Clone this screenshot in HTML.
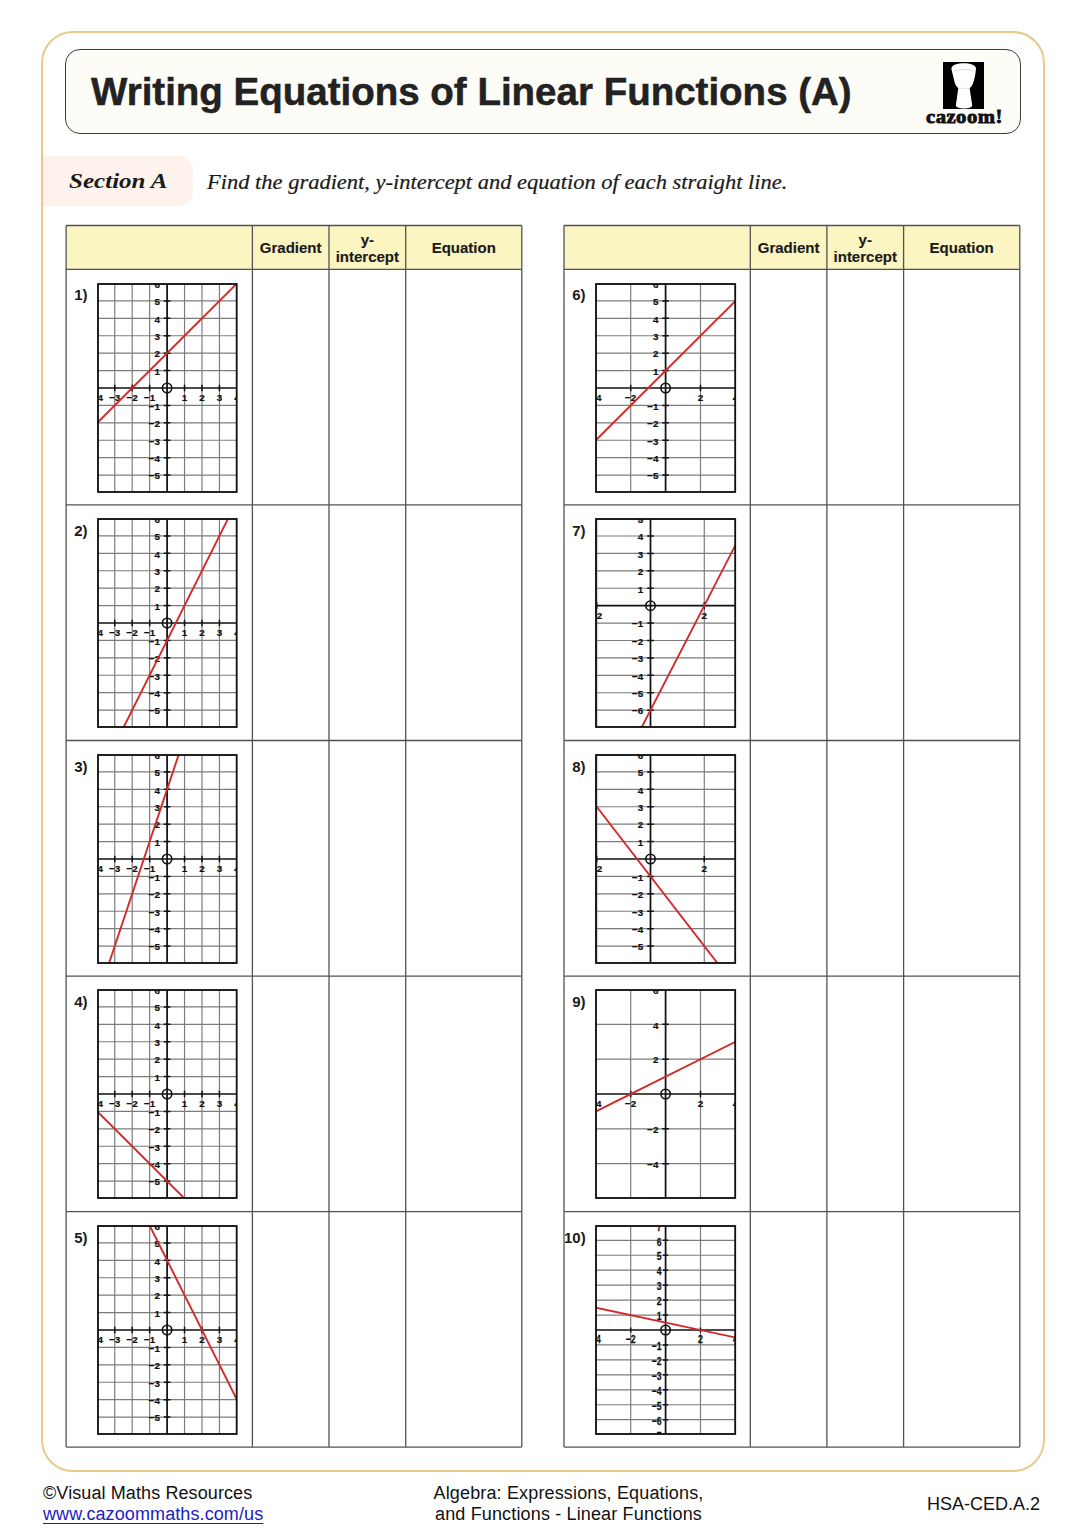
<!DOCTYPE html>
<html><head><meta charset="utf-8">
<style>
html,body{margin:0;padding:0;background:#fff;}
body{width:1086px;height:1536px;position:relative;overflow:hidden;font-family:"Liberation Sans",sans-serif;color:#1a1a1a;}
.abs{position:absolute;}
#outer{position:absolute;left:41px;top:31.2px;width:1004.2px;height:1440.8px;box-sizing:border-box;border:2.1px solid #e9c98c;border-radius:32px;}
#titlebox{position:absolute;left:65.1px;top:49.35px;width:955.9px;height:84.8px;box-sizing:border-box;border:1.9px solid #3d3d3d;border-radius:15px;background:#fefcf6;}
#title{position:absolute;left:91px;top:70px;font-size:38.5px;font-weight:bold;color:#222;white-space:nowrap;letter-spacing:0px;-webkit-text-stroke:0.5px #222;}
#pill{position:absolute;left:43px;top:155.5px;width:150px;height:50px;background:#fdf2ec;border-radius:0 15px 15px 0;}
#sec{position:absolute;left:68.5px;top:169px;font-family:"Liberation Serif",serif;font-style:italic;font-weight:bold;font-size:21.7px;color:#1a1a1a;white-space:nowrap;transform:scaleX(1.155);transform-origin:0 0;}
#instr{position:absolute;left:207px;top:171px;font-family:"Liberation Serif",serif;font-style:italic;font-size:20px;color:#1a1a1a;white-space:nowrap;transform:scaleX(1.124);-webkit-text-stroke:0.2px #1a1a1a;transform-origin:0 0;}
svg.tbl{position:absolute;left:0;top:0;}
svg.tbl line{stroke:#525252;stroke-width:1.3;}
svg.g{position:absolute;}
.lab text{font-family:"Liberation Sans",sans-serif;font-weight:bold;fill:#111;stroke:#111;stroke-width:0.25px;}
.num{position:absolute;width:21.5px;text-align:right;font-size:15px;color:#1a1a1a;font-weight:bold;}
.hd{position:absolute;text-align:center;font-size:15px;font-weight:bold;color:#1a1a1a;line-height:16.5px;-webkit-text-stroke:0.15px #1a1a1a;}
.foot{position:absolute;font-size:18px;color:#111;white-space:nowrap;line-height:21px;}
#f1{left:43px;top:1482.5px;letter-spacing:0.1px;}
#f1 a{color:#1c1cc4;text-decoration:underline;text-underline-offset:2.5px;text-decoration-thickness:1.4px;}
#f2{left:400px;width:337px;text-align:center;top:1482.5px;letter-spacing:0.15px;}
#f3{left:900px;width:1041px;top:1494px;}
#logo{position:absolute;left:942.8px;top:61.8px;width:41.4px;height:47.4px;background:#000;}
#logotxt{position:absolute;left:925.5px;top:106.5px;font-family:"Liberation Serif",serif;font-weight:bold;font-size:18px;color:#111;white-space:nowrap;letter-spacing:0.4px;-webkit-text-stroke:0.8px #111;transform:scaleX(1.15);transform-origin:0 0;}
</style></head><body>
<div id="outer"></div>
<div id="titlebox"></div>
<div id="title">Writing Equations of Linear Functions (A)</div>
<div id="logo"><svg width="41.4" height="47.4" viewBox="0 0 41.4 47.4" style="display:block"><path d="M8.4 6.7 C8.2 -0.6 33.2 -0.6 33 6.5 C32.6 12 31.5 17 30.6 19.5 C29.8 22.5 28.5 25 26.6 26.3 L29.2 43.1 C29.5 47.6 12.6 47.6 12.9 43.1 L15.3 26.3 C13.2 24.5 12 22 11.5 20.1 C10.5 15 9 10 8.4 6.7 Z" fill="#fff"/><path d="M10 9.5 Q20.7 5.5 31.5 9.5" stroke="#d0d0d0" stroke-width="0.8" fill="none"/><path d="M15.5 26.6 Q20.9 25.8 26.4 26.6" stroke="#d8d8d8" stroke-width="0.7" fill="none"/></svg></div>
<div id="logotxt">cazoom!</div>
<div id="pill"></div>
<div id="sec">Section A</div>
<div id="instr">Find the gradient, y-intercept and equation of each straight line.</div>
<svg class="tbl" width="1086" height="1536">
<rect x="66.1" y="225.5" width="455.7" height="43.9" fill="#fbf5c1"/>
<line x1="66.1" y1="225.5" x2="521.8" y2="225.5"/>
<line x1="66.1" y1="269.4" x2="521.8" y2="269.4"/>
<line x1="66.1" y1="504.95" x2="521.8" y2="504.95"/>
<line x1="66.1" y1="740.5" x2="521.8" y2="740.5"/>
<line x1="66.1" y1="976.05" x2="521.8" y2="976.05"/>
<line x1="66.1" y1="1211.6" x2="521.8" y2="1211.6"/>
<line x1="66.1" y1="1447.1" x2="521.8" y2="1447.1"/>
<line x1="66.1" y1="225.5" x2="66.1" y2="1447.1"/>
<line x1="252.4" y1="225.5" x2="252.4" y2="1447.1"/>
<line x1="329" y1="225.5" x2="329" y2="1447.1"/>
<line x1="405.7" y1="225.5" x2="405.7" y2="1447.1"/>
<line x1="521.8" y1="225.5" x2="521.8" y2="1447.1"/>
<rect x="564" y="225.5" width="455.8" height="43.9" fill="#fbf5c1"/>
<line x1="564" y1="225.5" x2="1019.8" y2="225.5"/>
<line x1="564" y1="269.4" x2="1019.8" y2="269.4"/>
<line x1="564" y1="504.95" x2="1019.8" y2="504.95"/>
<line x1="564" y1="740.5" x2="1019.8" y2="740.5"/>
<line x1="564" y1="976.05" x2="1019.8" y2="976.05"/>
<line x1="564" y1="1211.6" x2="1019.8" y2="1211.6"/>
<line x1="564" y1="1447.1" x2="1019.8" y2="1447.1"/>
<line x1="564" y1="225.5" x2="564" y2="1447.1"/>
<line x1="750.3" y1="225.5" x2="750.3" y2="1447.1"/>
<line x1="826.9" y1="225.5" x2="826.9" y2="1447.1"/>
<line x1="903.6" y1="225.5" x2="903.6" y2="1447.1"/>
<line x1="1019.8" y1="225.5" x2="1019.8" y2="1447.1"/>
</svg>
<div class="hd" style="left:252.4px;width:76.6px;top:240px">Gradient</div>
<div class="hd hd2" style="left:329px;width:76.7px;top:232px;line-height:16.8px">y-<br>intercept</div>
<div class="hd" style="left:405.7px;width:116.1px;top:240px">Equation</div>
<div class="hd" style="left:750.3px;width:76.6px;top:240px">Gradient</div>
<div class="hd hd2" style="left:826.9px;width:76.7px;top:232px;line-height:16.8px">y-<br>intercept</div>
<div class="hd" style="left:903.6px;width:116.2px;top:240px">Equation</div>
<div class="num" style="top:286.4px;left:66.1px">1)</div>
<div class="num" style="top:286.4px;left:564px">6)</div>
<div class="num" style="top:521.95px;left:66.1px">2)</div>
<div class="num" style="top:521.95px;left:564px">7)</div>
<div class="num" style="top:757.5px;left:66.1px">3)</div>
<div class="num" style="top:757.5px;left:564px">8)</div>
<div class="num" style="top:993.05px;left:66.1px">4)</div>
<div class="num" style="top:993.05px;left:564px">9)</div>
<div class="num" style="top:1228.6px;left:66.1px">5)</div>
<div class="num" style="top:1228.6px;left:564px">10)</div>
<svg class="g" style="left:95.2px;top:280.6px" width="144.7" height="214" viewBox="-3 -3 144.7 214">
<defs><clipPath id="c1"><rect x="0" y="0" width="138.7" height="208"/></clipPath></defs>
<g clip-path="url(#c1)">
<rect x="0" y="0" width="138.7" height="208" fill="#fff"/>
<path d="M16.75 0V208M34.2 0V208M51.65 0V208M86.55 0V208M104 0V208M121.45 0V208M0 191.1H138.7M0 173.68H138.7M0 156.26H138.7M0 138.84H138.7M0 121.42H138.7M0 86.58H138.7M0 69.16H138.7M0 51.74H138.7M0 34.32H138.7M0 16.9H138.7" stroke="#7c7c7c" stroke-width="1.2" fill="none"/>
<path d="M69.1 0V208M0 104H138.7" stroke="#111" stroke-width="1.75" fill="none"/>
<path d="M16.75 100.7V107.3M34.2 100.7V107.3M51.65 100.7V107.3M86.55 100.7V107.3M104 100.7V107.3M121.45 100.7V107.3M65.8 191.1H72.4M65.8 173.68H72.4M65.8 156.26H72.4M65.8 138.84H72.4M65.8 121.42H72.4M65.8 86.58H72.4M65.8 69.16H72.4M65.8 51.74H72.4M65.8 34.32H72.4M65.8 16.9H72.4" stroke="#111" stroke-width="1.5" fill="none"/>
<g class="lab" style="font-size:9.8px"><text x="-0.7" y="117.2" text-anchor="middle">−4</text><text x="16.75" y="117.2" text-anchor="middle">−3</text><text x="34.2" y="117.2" text-anchor="middle">−2</text><text x="51.65" y="117.2" text-anchor="middle">−1</text><text x="86.55" y="117.2" text-anchor="middle">1</text><text x="104" y="117.2" text-anchor="middle">2</text><text x="121.45" y="117.2" text-anchor="middle">3</text><text x="138.9" y="117.2" text-anchor="middle">4</text><text x="61.9" y="212.82" text-anchor="end">−6</text><text x="61.9" y="195.4" text-anchor="end">−5</text><text x="61.9" y="177.98" text-anchor="end">−4</text><text x="61.9" y="160.56" text-anchor="end">−3</text><text x="61.9" y="143.14" text-anchor="end">−2</text><text x="61.9" y="125.72" text-anchor="end">−1</text><text x="61.9" y="90.88" text-anchor="end">1</text><text x="61.9" y="73.46" text-anchor="end">2</text><text x="61.9" y="56.04" text-anchor="end">3</text><text x="61.9" y="38.62" text-anchor="end">4</text><text x="61.9" y="21.2" text-anchor="end">5</text><text x="61.9" y="3.78" text-anchor="end">6</text></g>
<circle cx="69.1" cy="104" r="4.7" stroke="#111" stroke-width="1.6" fill="none"/>
<line x1="-17.45" y1="155.56" x2="156.15" y2="-17.74" stroke="#d22a2a" stroke-width="1.9"/>
</g>
<rect x="0" y="0" width="138.7" height="208" fill="none" stroke="#111" stroke-width="1.85"/>
</svg>
<svg class="g" style="left:95.2px;top:516.15px" width="144.7" height="214" viewBox="-3 -3 144.7 214">
<defs><clipPath id="c2"><rect x="0" y="0" width="138.7" height="208"/></clipPath></defs>
<g clip-path="url(#c2)">
<rect x="0" y="0" width="138.7" height="208" fill="#fff"/>
<path d="M16.75 0V208M34.2 0V208M51.65 0V208M86.55 0V208M104 0V208M121.45 0V208M0 191.1H138.7M0 173.68H138.7M0 156.26H138.7M0 138.84H138.7M0 121.42H138.7M0 86.58H138.7M0 69.16H138.7M0 51.74H138.7M0 34.32H138.7M0 16.9H138.7" stroke="#7c7c7c" stroke-width="1.2" fill="none"/>
<path d="M69.1 0V208M0 104H138.7" stroke="#111" stroke-width="1.75" fill="none"/>
<path d="M16.75 100.7V107.3M34.2 100.7V107.3M51.65 100.7V107.3M86.55 100.7V107.3M104 100.7V107.3M121.45 100.7V107.3M65.8 191.1H72.4M65.8 173.68H72.4M65.8 156.26H72.4M65.8 138.84H72.4M65.8 121.42H72.4M65.8 86.58H72.4M65.8 69.16H72.4M65.8 51.74H72.4M65.8 34.32H72.4M65.8 16.9H72.4" stroke="#111" stroke-width="1.5" fill="none"/>
<g class="lab" style="font-size:9.8px"><text x="-0.7" y="117.2" text-anchor="middle">−4</text><text x="16.75" y="117.2" text-anchor="middle">−3</text><text x="34.2" y="117.2" text-anchor="middle">−2</text><text x="51.65" y="117.2" text-anchor="middle">−1</text><text x="86.55" y="117.2" text-anchor="middle">1</text><text x="104" y="117.2" text-anchor="middle">2</text><text x="121.45" y="117.2" text-anchor="middle">3</text><text x="138.9" y="117.2" text-anchor="middle">4</text><text x="61.9" y="212.82" text-anchor="end">−6</text><text x="61.9" y="195.4" text-anchor="end">−5</text><text x="61.9" y="177.98" text-anchor="end">−4</text><text x="61.9" y="160.56" text-anchor="end">−3</text><text x="61.9" y="143.14" text-anchor="end">−2</text><text x="61.9" y="125.72" text-anchor="end">−1</text><text x="61.9" y="90.88" text-anchor="end">1</text><text x="61.9" y="73.46" text-anchor="end">2</text><text x="61.9" y="56.04" text-anchor="end">3</text><text x="61.9" y="38.62" text-anchor="end">4</text><text x="61.9" y="21.2" text-anchor="end">5</text><text x="61.9" y="3.78" text-anchor="end">6</text></g>
<circle cx="69.1" cy="104" r="4.7" stroke="#111" stroke-width="1.6" fill="none"/>
<line x1="-17.45" y1="294.22" x2="156.15" y2="-52.38" stroke="#d22a2a" stroke-width="1.9"/>
</g>
<rect x="0" y="0" width="138.7" height="208" fill="none" stroke="#111" stroke-width="1.85"/>
</svg>
<svg class="g" style="left:95.2px;top:751.7px" width="144.7" height="214" viewBox="-3 -3 144.7 214">
<defs><clipPath id="c3"><rect x="0" y="0" width="138.7" height="208"/></clipPath></defs>
<g clip-path="url(#c3)">
<rect x="0" y="0" width="138.7" height="208" fill="#fff"/>
<path d="M16.75 0V208M34.2 0V208M51.65 0V208M86.55 0V208M104 0V208M121.45 0V208M0 191.1H138.7M0 173.68H138.7M0 156.26H138.7M0 138.84H138.7M0 121.42H138.7M0 86.58H138.7M0 69.16H138.7M0 51.74H138.7M0 34.32H138.7M0 16.9H138.7" stroke="#7c7c7c" stroke-width="1.2" fill="none"/>
<path d="M69.1 0V208M0 104H138.7" stroke="#111" stroke-width="1.75" fill="none"/>
<path d="M16.75 100.7V107.3M34.2 100.7V107.3M51.65 100.7V107.3M86.55 100.7V107.3M104 100.7V107.3M121.45 100.7V107.3M65.8 191.1H72.4M65.8 173.68H72.4M65.8 156.26H72.4M65.8 138.84H72.4M65.8 121.42H72.4M65.8 86.58H72.4M65.8 69.16H72.4M65.8 51.74H72.4M65.8 34.32H72.4M65.8 16.9H72.4" stroke="#111" stroke-width="1.5" fill="none"/>
<g class="lab" style="font-size:9.8px"><text x="-0.7" y="117.2" text-anchor="middle">−4</text><text x="16.75" y="117.2" text-anchor="middle">−3</text><text x="34.2" y="117.2" text-anchor="middle">−2</text><text x="51.65" y="117.2" text-anchor="middle">−1</text><text x="86.55" y="117.2" text-anchor="middle">1</text><text x="104" y="117.2" text-anchor="middle">2</text><text x="121.45" y="117.2" text-anchor="middle">3</text><text x="138.9" y="117.2" text-anchor="middle">4</text><text x="61.9" y="212.82" text-anchor="end">−6</text><text x="61.9" y="195.4" text-anchor="end">−5</text><text x="61.9" y="177.98" text-anchor="end">−4</text><text x="61.9" y="160.56" text-anchor="end">−3</text><text x="61.9" y="143.14" text-anchor="end">−2</text><text x="61.9" y="125.72" text-anchor="end">−1</text><text x="61.9" y="90.88" text-anchor="end">1</text><text x="61.9" y="73.46" text-anchor="end">2</text><text x="61.9" y="56.04" text-anchor="end">3</text><text x="61.9" y="38.62" text-anchor="end">4</text><text x="61.9" y="21.2" text-anchor="end">5</text><text x="61.9" y="3.78" text-anchor="end">6</text></g>
<circle cx="69.1" cy="104" r="4.7" stroke="#111" stroke-width="1.6" fill="none"/>
<line x1="-17.45" y1="293.52" x2="156.15" y2="-226.38" stroke="#d22a2a" stroke-width="1.9"/>
</g>
<rect x="0" y="0" width="138.7" height="208" fill="none" stroke="#111" stroke-width="1.85"/>
</svg>
<svg class="g" style="left:95.2px;top:987.25px" width="144.7" height="214" viewBox="-3 -3 144.7 214">
<defs><clipPath id="c4"><rect x="0" y="0" width="138.7" height="208"/></clipPath></defs>
<g clip-path="url(#c4)">
<rect x="0" y="0" width="138.7" height="208" fill="#fff"/>
<path d="M16.75 0V208M34.2 0V208M51.65 0V208M86.55 0V208M104 0V208M121.45 0V208M0 191.1H138.7M0 173.68H138.7M0 156.26H138.7M0 138.84H138.7M0 121.42H138.7M0 86.58H138.7M0 69.16H138.7M0 51.74H138.7M0 34.32H138.7M0 16.9H138.7" stroke="#7c7c7c" stroke-width="1.2" fill="none"/>
<path d="M69.1 0V208M0 104H138.7" stroke="#111" stroke-width="1.75" fill="none"/>
<path d="M16.75 100.7V107.3M34.2 100.7V107.3M51.65 100.7V107.3M86.55 100.7V107.3M104 100.7V107.3M121.45 100.7V107.3M65.8 191.1H72.4M65.8 173.68H72.4M65.8 156.26H72.4M65.8 138.84H72.4M65.8 121.42H72.4M65.8 86.58H72.4M65.8 69.16H72.4M65.8 51.74H72.4M65.8 34.32H72.4M65.8 16.9H72.4" stroke="#111" stroke-width="1.5" fill="none"/>
<g class="lab" style="font-size:9.8px"><text x="-0.7" y="117.2" text-anchor="middle">−4</text><text x="16.75" y="117.2" text-anchor="middle">−3</text><text x="34.2" y="117.2" text-anchor="middle">−2</text><text x="51.65" y="117.2" text-anchor="middle">−1</text><text x="86.55" y="117.2" text-anchor="middle">1</text><text x="104" y="117.2" text-anchor="middle">2</text><text x="121.45" y="117.2" text-anchor="middle">3</text><text x="138.9" y="117.2" text-anchor="middle">4</text><text x="61.9" y="212.82" text-anchor="end">−6</text><text x="61.9" y="195.4" text-anchor="end">−5</text><text x="61.9" y="177.98" text-anchor="end">−4</text><text x="61.9" y="160.56" text-anchor="end">−3</text><text x="61.9" y="143.14" text-anchor="end">−2</text><text x="61.9" y="125.72" text-anchor="end">−1</text><text x="61.9" y="90.88" text-anchor="end">1</text><text x="61.9" y="73.46" text-anchor="end">2</text><text x="61.9" y="56.04" text-anchor="end">3</text><text x="61.9" y="38.62" text-anchor="end">4</text><text x="61.9" y="21.2" text-anchor="end">5</text><text x="61.9" y="3.78" text-anchor="end">6</text></g>
<circle cx="69.1" cy="104" r="4.7" stroke="#111" stroke-width="1.6" fill="none"/>
<line x1="-17.45" y1="104.7" x2="156.15" y2="278" stroke="#d22a2a" stroke-width="1.9"/>
</g>
<rect x="0" y="0" width="138.7" height="208" fill="none" stroke="#111" stroke-width="1.85"/>
</svg>
<svg class="g" style="left:95.2px;top:1222.8px" width="144.7" height="214" viewBox="-3 -3 144.7 214">
<defs><clipPath id="c5"><rect x="0" y="0" width="138.7" height="208"/></clipPath></defs>
<g clip-path="url(#c5)">
<rect x="0" y="0" width="138.7" height="208" fill="#fff"/>
<path d="M16.75 0V208M34.2 0V208M51.65 0V208M86.55 0V208M104 0V208M121.45 0V208M0 191.1H138.7M0 173.68H138.7M0 156.26H138.7M0 138.84H138.7M0 121.42H138.7M0 86.58H138.7M0 69.16H138.7M0 51.74H138.7M0 34.32H138.7M0 16.9H138.7" stroke="#7c7c7c" stroke-width="1.2" fill="none"/>
<path d="M69.1 0V208M0 104H138.7" stroke="#111" stroke-width="1.75" fill="none"/>
<path d="M16.75 100.7V107.3M34.2 100.7V107.3M51.65 100.7V107.3M86.55 100.7V107.3M104 100.7V107.3M121.45 100.7V107.3M65.8 191.1H72.4M65.8 173.68H72.4M65.8 156.26H72.4M65.8 138.84H72.4M65.8 121.42H72.4M65.8 86.58H72.4M65.8 69.16H72.4M65.8 51.74H72.4M65.8 34.32H72.4M65.8 16.9H72.4" stroke="#111" stroke-width="1.5" fill="none"/>
<g class="lab" style="font-size:9.8px"><text x="-0.7" y="117.2" text-anchor="middle">−4</text><text x="16.75" y="117.2" text-anchor="middle">−3</text><text x="34.2" y="117.2" text-anchor="middle">−2</text><text x="51.65" y="117.2" text-anchor="middle">−1</text><text x="86.55" y="117.2" text-anchor="middle">1</text><text x="104" y="117.2" text-anchor="middle">2</text><text x="121.45" y="117.2" text-anchor="middle">3</text><text x="138.9" y="117.2" text-anchor="middle">4</text><text x="61.9" y="212.82" text-anchor="end">−6</text><text x="61.9" y="195.4" text-anchor="end">−5</text><text x="61.9" y="177.98" text-anchor="end">−4</text><text x="61.9" y="160.56" text-anchor="end">−3</text><text x="61.9" y="143.14" text-anchor="end">−2</text><text x="61.9" y="125.72" text-anchor="end">−1</text><text x="61.9" y="90.88" text-anchor="end">1</text><text x="61.9" y="73.46" text-anchor="end">2</text><text x="61.9" y="56.04" text-anchor="end">3</text><text x="61.9" y="38.62" text-anchor="end">4</text><text x="61.9" y="21.2" text-anchor="end">5</text><text x="61.9" y="3.78" text-anchor="end">6</text></g>
<circle cx="69.1" cy="104" r="4.7" stroke="#111" stroke-width="1.6" fill="none"/>
<line x1="-17.45" y1="-138.48" x2="156.15" y2="208.12" stroke="#d22a2a" stroke-width="1.9"/>
</g>
<rect x="0" y="0" width="138.7" height="208" fill="none" stroke="#111" stroke-width="1.85"/>
</svg>
<svg class="g" style="left:593px;top:280.6px" width="145.2" height="214" viewBox="-3 -3 145.2 214">
<defs><clipPath id="c6"><rect x="0" y="0" width="139.2" height="208"/></clipPath></defs>
<g clip-path="url(#c6)">
<rect x="0" y="0" width="139.2" height="208" fill="#fff"/>
<path d="M34.7 0V208M104.5 0V208M0 191.1H139.2M0 173.68H139.2M0 156.26H139.2M0 138.84H139.2M0 121.42H139.2M0 86.58H139.2M0 69.16H139.2M0 51.74H139.2M0 34.32H139.2M0 16.9H139.2" stroke="#7c7c7c" stroke-width="1.2" fill="none"/>
<path d="M69.6 0V208M0 104H139.2" stroke="#111" stroke-width="1.75" fill="none"/>
<path d="M34.7 100.7V107.3M104.5 100.7V107.3M66.3 191.1H72.9M66.3 173.68H72.9M66.3 156.26H72.9M66.3 138.84H72.9M66.3 121.42H72.9M66.3 86.58H72.9M66.3 69.16H72.9M66.3 51.74H72.9M66.3 34.32H72.9M66.3 16.9H72.9" stroke="#111" stroke-width="1.5" fill="none"/>
<g class="lab" style="font-size:9.8px"><text x="-0.2" y="117.2" text-anchor="middle">−4</text><text x="34.7" y="117.2" text-anchor="middle">−2</text><text x="104.5" y="117.2" text-anchor="middle">2</text><text x="139.4" y="117.2" text-anchor="middle">4</text><text x="62.4" y="212.82" text-anchor="end">−6</text><text x="62.4" y="195.4" text-anchor="end">−5</text><text x="62.4" y="177.98" text-anchor="end">−4</text><text x="62.4" y="160.56" text-anchor="end">−3</text><text x="62.4" y="143.14" text-anchor="end">−2</text><text x="62.4" y="125.72" text-anchor="end">−1</text><text x="62.4" y="90.88" text-anchor="end">1</text><text x="62.4" y="73.46" text-anchor="end">2</text><text x="62.4" y="56.04" text-anchor="end">3</text><text x="62.4" y="38.62" text-anchor="end">4</text><text x="62.4" y="21.2" text-anchor="end">5</text><text x="62.4" y="3.78" text-anchor="end">6</text></g>
<circle cx="69.6" cy="104" r="4.7" stroke="#111" stroke-width="1.6" fill="none"/>
<line x1="-17.45" y1="173.48" x2="156.65" y2="-0.32" stroke="#d22a2a" stroke-width="1.9"/>
</g>
<rect x="0" y="0" width="139.2" height="208" fill="none" stroke="#111" stroke-width="1.85"/>
</svg>
<svg class="g" style="left:593px;top:516.15px" width="145.2" height="214" viewBox="-3 -3 145.2 214">
<defs><clipPath id="c7"><rect x="0" y="0" width="139.2" height="208"/></clipPath></defs>
<g clip-path="url(#c7)">
<rect x="0" y="0" width="139.2" height="208" fill="#fff"/>
<path d="M0.7 0V208M108.3 0V208M0 191.17H139.2M0 173.75H139.2M0 156.33H139.2M0 138.91H139.2M0 121.49H139.2M0 104.07H139.2M0 69.23H139.2M0 51.81H139.2M0 34.39H139.2M0 16.97H139.2" stroke="#7c7c7c" stroke-width="1.2" fill="none"/>
<path d="M54.5 0V208M0 86.65H139.2" stroke="#111" stroke-width="1.75" fill="none"/>
<path d="M0.7 83.35V89.95M108.3 83.35V89.95M51.2 191.17H57.8M51.2 173.75H57.8M51.2 156.33H57.8M51.2 138.91H57.8M51.2 121.49H57.8M51.2 104.07H57.8M51.2 69.23H57.8M51.2 51.81H57.8M51.2 34.39H57.8M51.2 16.97H57.8" stroke="#111" stroke-width="1.5" fill="none"/>
<g class="lab" style="font-size:9.8px"><text x="0.7" y="99.85" text-anchor="middle">−2</text><text x="108.3" y="99.85" text-anchor="middle">2</text><text x="47.3" y="212.89" text-anchor="end">−7</text><text x="47.3" y="195.47" text-anchor="end">−6</text><text x="47.3" y="178.05" text-anchor="end">−5</text><text x="47.3" y="160.63" text-anchor="end">−4</text><text x="47.3" y="143.21" text-anchor="end">−3</text><text x="47.3" y="125.79" text-anchor="end">−2</text><text x="47.3" y="108.37" text-anchor="end">−1</text><text x="47.3" y="73.53" text-anchor="end">1</text><text x="47.3" y="56.11" text-anchor="end">2</text><text x="47.3" y="38.69" text-anchor="end">3</text><text x="47.3" y="21.27" text-anchor="end">4</text><text x="47.3" y="3.85" text-anchor="end">5</text></g>
<circle cx="54.5" cy="86.65" r="4.7" stroke="#111" stroke-width="1.6" fill="none"/>
<line x1="-26.9" y1="349.31" x2="166.1" y2="-25.64" stroke="#d22a2a" stroke-width="1.9"/>
</g>
<rect x="0" y="0" width="139.2" height="208" fill="none" stroke="#111" stroke-width="1.85"/>
</svg>
<svg class="g" style="left:593px;top:751.7px" width="145.2" height="214" viewBox="-3 -3 145.2 214">
<defs><clipPath id="c8"><rect x="0" y="0" width="139.2" height="208"/></clipPath></defs>
<g clip-path="url(#c8)">
<rect x="0" y="0" width="139.2" height="208" fill="#fff"/>
<path d="M0.7 0V208M108.3 0V208M0 191.1H139.2M0 173.68H139.2M0 156.26H139.2M0 138.84H139.2M0 121.42H139.2M0 86.58H139.2M0 69.16H139.2M0 51.74H139.2M0 34.32H139.2M0 16.9H139.2" stroke="#7c7c7c" stroke-width="1.2" fill="none"/>
<path d="M54.5 0V208M0 104H139.2" stroke="#111" stroke-width="1.75" fill="none"/>
<path d="M0.7 100.7V107.3M108.3 100.7V107.3M51.2 191.1H57.8M51.2 173.68H57.8M51.2 156.26H57.8M51.2 138.84H57.8M51.2 121.42H57.8M51.2 86.58H57.8M51.2 69.16H57.8M51.2 51.74H57.8M51.2 34.32H57.8M51.2 16.9H57.8" stroke="#111" stroke-width="1.5" fill="none"/>
<g class="lab" style="font-size:9.8px"><text x="0.7" y="117.2" text-anchor="middle">−2</text><text x="108.3" y="117.2" text-anchor="middle">2</text><text x="47.3" y="212.82" text-anchor="end">−6</text><text x="47.3" y="195.4" text-anchor="end">−5</text><text x="47.3" y="177.98" text-anchor="end">−4</text><text x="47.3" y="160.56" text-anchor="end">−3</text><text x="47.3" y="143.14" text-anchor="end">−2</text><text x="47.3" y="125.72" text-anchor="end">−1</text><text x="47.3" y="90.88" text-anchor="end">1</text><text x="47.3" y="73.46" text-anchor="end">2</text><text x="47.3" y="56.04" text-anchor="end">3</text><text x="47.3" y="38.62" text-anchor="end">4</text><text x="47.3" y="21.2" text-anchor="end">5</text><text x="47.3" y="3.78" text-anchor="end">6</text></g>
<circle cx="54.5" cy="104" r="4.7" stroke="#111" stroke-width="1.6" fill="none"/>
<line x1="-26.9" y1="15.99" x2="166.1" y2="265.96" stroke="#d22a2a" stroke-width="1.9"/>
</g>
<rect x="0" y="0" width="139.2" height="208" fill="none" stroke="#111" stroke-width="1.85"/>
</svg>
<svg class="g" style="left:593px;top:987.25px" width="145.2" height="214" viewBox="-3 -3 145.2 214">
<defs><clipPath id="c9"><rect x="0" y="0" width="139.2" height="208"/></clipPath></defs>
<g clip-path="url(#c9)">
<rect x="0" y="0" width="139.2" height="208" fill="#fff"/>
<path d="M34.7 0V208M104.5 0V208M0 173.68H139.2M0 138.84H139.2M0 69.16H139.2M0 34.32H139.2" stroke="#7c7c7c" stroke-width="1.2" fill="none"/>
<path d="M69.6 0V208M0 104H139.2" stroke="#111" stroke-width="1.75" fill="none"/>
<path d="M34.7 100.7V107.3M104.5 100.7V107.3M66.3 173.68H72.9M66.3 138.84H72.9M66.3 69.16H72.9M66.3 34.32H72.9" stroke="#111" stroke-width="1.5" fill="none"/>
<g class="lab" style="font-size:9.8px"><text x="-0.2" y="117.2" text-anchor="middle">−4</text><text x="34.7" y="117.2" text-anchor="middle">−2</text><text x="104.5" y="117.2" text-anchor="middle">2</text><text x="139.4" y="117.2" text-anchor="middle">4</text><text x="62.4" y="212.82" text-anchor="end">−6</text><text x="62.4" y="177.98" text-anchor="end">−4</text><text x="62.4" y="143.14" text-anchor="end">−2</text><text x="62.4" y="73.46" text-anchor="end">2</text><text x="62.4" y="38.62" text-anchor="end">4</text><text x="62.4" y="3.78" text-anchor="end">6</text></g>
<circle cx="69.6" cy="104" r="4.7" stroke="#111" stroke-width="1.6" fill="none"/>
<line x1="-17.45" y1="130.03" x2="156.65" y2="43.13" stroke="#d22a2a" stroke-width="1.9"/>
</g>
<rect x="0" y="0" width="139.2" height="208" fill="none" stroke="#111" stroke-width="1.85"/>
</svg>
<svg class="g" style="left:593px;top:1222.8px" width="145.2" height="214" viewBox="-3 -3 145.2 214">
<defs><clipPath id="c10"><rect x="0" y="0" width="139.2" height="208"/></clipPath></defs>
<g clip-path="url(#c10)">
<rect x="0" y="0" width="139.2" height="208" fill="#fff"/>
<path d="M34.7 0V208M104.5 0V208M0 193.7H139.2M0 178.75H139.2M0 163.8H139.2M0 148.85H139.2M0 133.9H139.2M0 118.95H139.2M0 89.05H139.2M0 74.1H139.2M0 59.15H139.2M0 44.2H139.2M0 29.25H139.2M0 14.3H139.2" stroke="#7c7c7c" stroke-width="1.2" fill="none"/>
<path d="M69.6 0V208M0 104H139.2" stroke="#111" stroke-width="1.75" fill="none"/>
<path d="M34.7 101.4V106.6M104.5 101.4V106.6M67 193.7H72.2M67 178.75H72.2M67 163.8H72.2M67 148.85H72.2M67 133.9H72.2M67 118.95H72.2M67 89.05H72.2M67 74.1H72.2M67 59.15H72.2M67 44.2H72.2M67 29.25H72.2M67 14.3H72.2" stroke="#111" stroke-width="1.5" fill="none"/>
<g class="lab" style="font-size:11px"><text transform="translate(-0.2 117.2) scale(0.78 1)" text-anchor="middle">−4</text><text transform="translate(34.7 117.2) scale(0.78 1)" text-anchor="middle">−2</text><text transform="translate(104.5 117.2) scale(0.78 1)" text-anchor="middle">2</text><text transform="translate(139.4 117.2) scale(0.78 1)" text-anchor="middle">4</text><text transform="translate(65.6 213.85) scale(0.78 1)" text-anchor="end">−7</text><text transform="translate(65.6 198.9) scale(0.78 1)" text-anchor="end">−6</text><text transform="translate(65.6 183.95) scale(0.78 1)" text-anchor="end">−5</text><text transform="translate(65.6 169) scale(0.78 1)" text-anchor="end">−4</text><text transform="translate(65.6 154.05) scale(0.78 1)" text-anchor="end">−3</text><text transform="translate(65.6 139.1) scale(0.78 1)" text-anchor="end">−2</text><text transform="translate(65.6 124.15) scale(0.78 1)" text-anchor="end">−1</text><text transform="translate(65.6 94.25) scale(0.78 1)" text-anchor="end">1</text><text transform="translate(65.6 79.3) scale(0.78 1)" text-anchor="end">2</text><text transform="translate(65.6 64.35) scale(0.78 1)" text-anchor="end">3</text><text transform="translate(65.6 49.4) scale(0.78 1)" text-anchor="end">4</text><text transform="translate(65.6 34.45) scale(0.78 1)" text-anchor="end">5</text><text transform="translate(65.6 19.5) scale(0.78 1)" text-anchor="end">6</text><text transform="translate(65.6 4.55) scale(0.78 1)" text-anchor="end">7</text></g>
<circle cx="69.6" cy="104" r="4.7" stroke="#111" stroke-width="1.6" fill="none"/>
<line x1="-17.45" y1="77.88" x2="156.65" y2="115.17" stroke="#d22a2a" stroke-width="1.9"/>
</g>
<rect x="0" y="0" width="139.2" height="208" fill="none" stroke="#111" stroke-width="1.85"/>
</svg>
<div class="foot" id="f1">©Visual Maths Resources<br><a>www.cazoommaths.com/us</a></div>
<div class="foot" id="f2">Algebra: Expressions, Equations,<br>and Functions - Linear Functions</div>
<div class="foot" id="f3" style="left:auto;right:46px;width:auto;">HSA-CED.A.2</div>
</body></html>
